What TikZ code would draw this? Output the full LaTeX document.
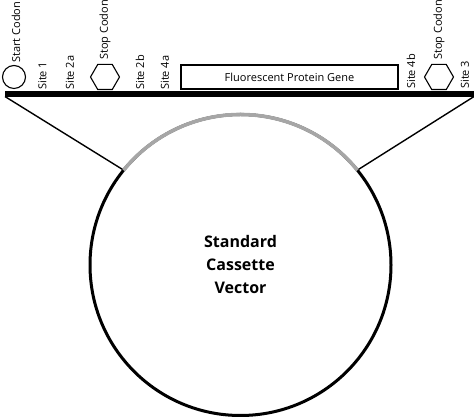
\documentclass[tikz,border=0pt]{standalone}
\usepackage{fontspec}
\setmainfont{Open Sans}
\usetikzlibrary{shapes.geometric}
\begin{document}
\begin{tikzpicture}[x=1pt,y=1pt,
  lbl/.style={rotate=90,anchor=west,inner sep=0pt,font=\fontsize{11}{13}\selectfont},
  hexa/.style={regular polygon,regular polygon sides=6,draw,line width=1.1pt,minimum size=29pt,inner sep=0pt},
  conn/.style={line width=1.4pt}]
\useasboundingbox (0,0) rectangle (474,419);
% bar
\node (bar) [fill=black,minimum width=469pt,minimum height=5.5pt,inner sep=0pt,outer sep=0pt] at (239.5,325.2) {};
% vector circle
\node (vec) [circle,draw,line width=3pt,minimum size=301pt,inner sep=0pt,align=center,
  font=\fontsize{16}{23}\bfseries\selectfont] at (240.5,154) {Standard\\Cassette\\Vector};
\draw[line width=3.6pt,color={rgb,255:red,166;green,166;blue,166}]
  ([shift={(39:150.5)}]vec.center) arc[start angle=39,end angle=141,radius=150.5];
\draw[conn] (bar.south west) -- (vec.141);
\draw[conn] (bar.south east) -- (vec.39);
% start codon
\node (start) [circle,draw,line width=1.1pt,minimum size=23pt,inner sep=0pt] at (14,342) {};
\node (startl) [lbl] at (16,356) {Start Codon};
\node (s1) [lbl] at (42.5,329) {Site 1};
\node (s2a) [lbl] at (70,329) {Site 2a};
\node (stop1) [hexa] at (105,342) {};
\node (stop1l) [lbl] at (105,359) {Stop Codon};
\node (s2b) [lbl] at (140,329) {Site 2b};
\node (s4a) [lbl] at (165,329) {Site 4a};
\node (fp) [draw,line width=1.1pt,minimum width=217pt,minimum height=24pt,inner sep=0pt,
  font=\fontsize{11}{13}\selectfont] at (289.5,342) {Fluorescent Protein Gene};
\node (s4b) [lbl] at (411,330) {Site 4b};
\node (stop2) [hexa] at (439,342) {};
\node (stop2l) [lbl] at (439,359) {Stop Codon};
\node (s3) [lbl] at (465,330) {Site 3};
\end{tikzpicture}
\end{document}
